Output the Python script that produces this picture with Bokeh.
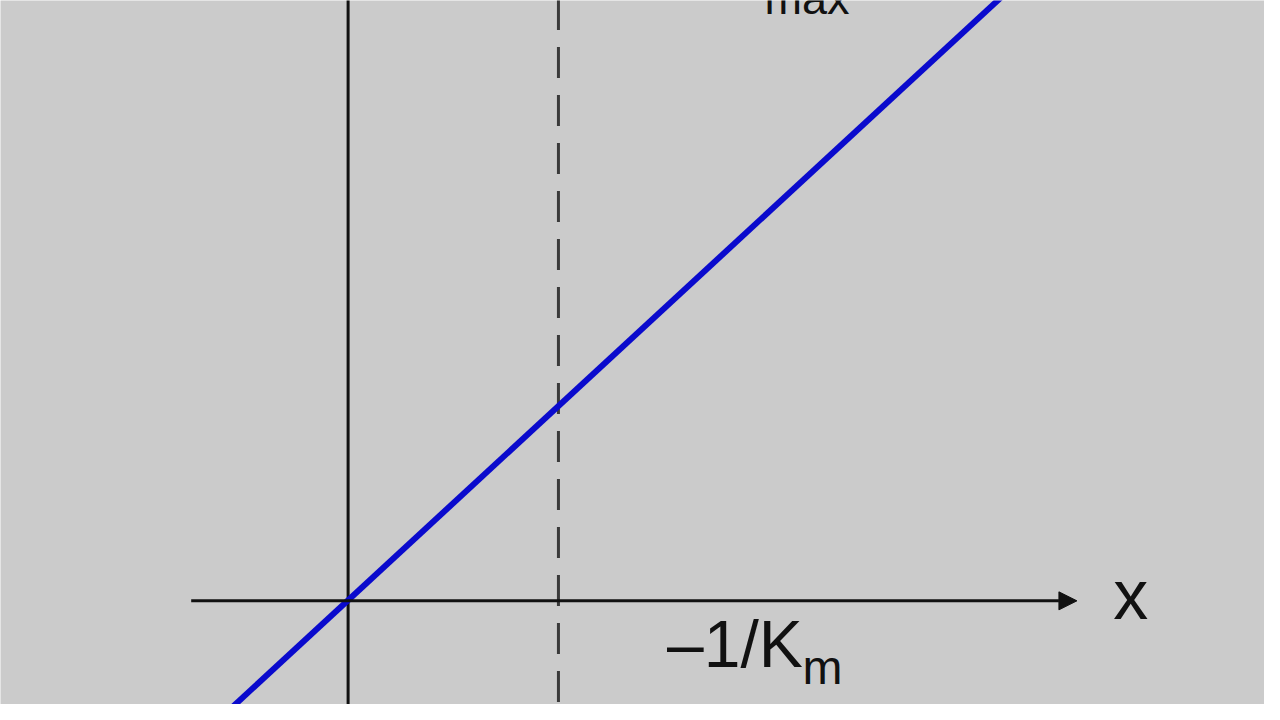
# Lineweaver-Burk style sketch: axes, dashed marker line and fitted straight line

from bokeh.plotting import figure
from bokeh.models import Range1d, Arrow, NormalHead, ColumnDataSource
from bokeh.core.properties import value
from bokeh.embed import file_html
from bokeh.resources import INLINE

# vertical (y) axis
yaxis_x = [0, 0]
yaxis_y = [-0.55, 2.95]

# horizontal (x) axis, ends in an arrow
xaxis_x = [-0.746, 3.465]
xaxis_y = [0, 0]

# dashed marker at -1/Km
dash_x = [1, 1]
dash_y = [2.89, -0.55]

# fitted straight line
fit_x = [-0.55, 3.3]
fit_y = [-0.51, 3.08]

# labels
label_text = ["\u20131/K", "m", "x", "max"]
label_x = [1.516, 2.160, 3.638, 1.980]
label_y = [-0.207, -0.322, 0.030, 2.894]
label_size = ["66px", "48px", "70px", "45px"]

BG = "#cbcbcb"

p = figure(
    width=1264,
    height=704,
    output_backend="svg",
    toolbar_location=None,
    min_border=0,
    x_range=Range1d(-1.6526, 4.3568),
    y_range=Range1d(-0.4977, 2.8826),
)
p.background_fill_color = BG
p.border_fill_color = BG
p.outline_line_color = None
p.axis.visible = False
p.grid.visible = False

p.line(yaxis_x, yaxis_y, color="#111111", line_width=3)
p.line(dash_x, dash_y, color="#3a3a3a", line_width=3, line_dash="31 17")

p.add_layout(Arrow(
    end=NormalHead(size=18, fill_color="#111111", line_color="#111111"),
    x_start=xaxis_x[0], y_start=xaxis_y[0],
    x_end=xaxis_x[1], y_end=xaxis_y[1],
    line_color="#111111", line_width=3,
))

p.line(fit_x, fit_y, color="#0a0acd", line_width=6)

labels = ColumnDataSource(dict(x=label_x, y=label_y, text=label_text, size=label_size))
p.text(x="x", y="y", text="text", source=labels, text_font_size="size",
       text_font=value("Liberation Sans"), text_color="#111111",
       text_align="left", text_baseline="alphabetic")

open("out.html", "w").write(file_html(p, INLINE))
